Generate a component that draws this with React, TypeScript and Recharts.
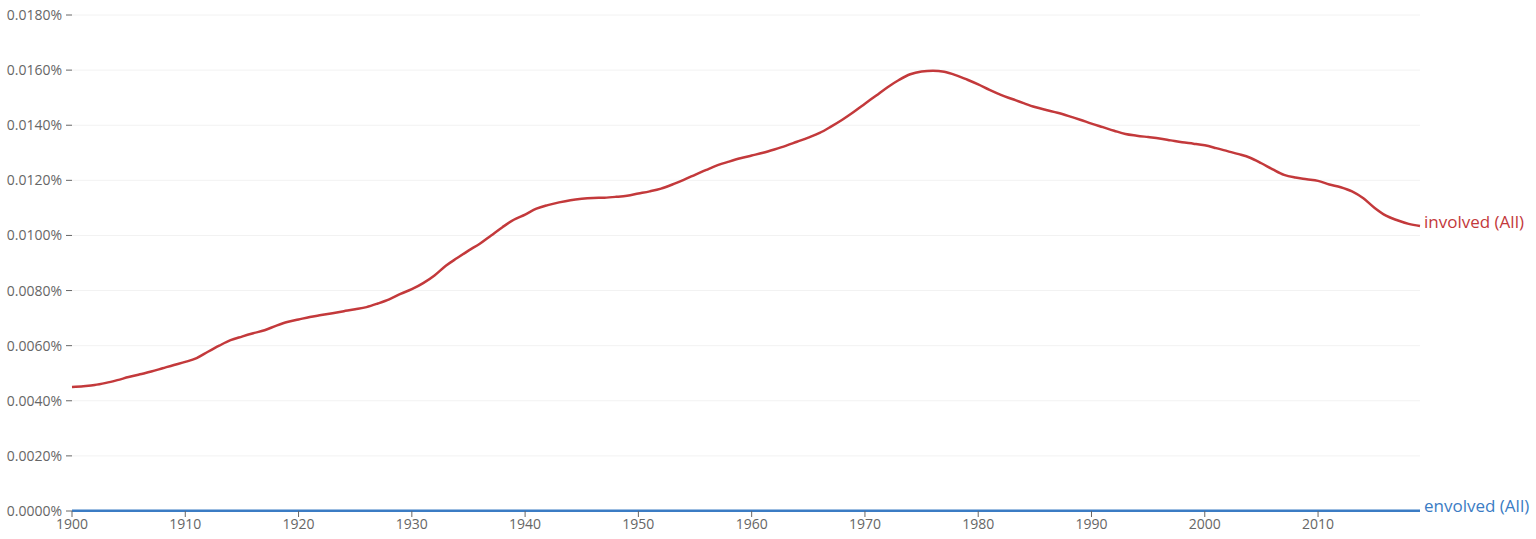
import React from 'react';
import { LineChart, Line, XAxis, YAxis, CartesianGrid } from 'recharts';

// yearly frequency of "involved", in percent
const involvedPct = [
  0.00450, 0.00453, 0.00457, 0.00465, 0.00475, 0.00486, 0.00496, 0.00506, 0.00518, 0.00530,
  0.00541, 0.00555, 0.00578, 0.00600, 0.00620, 0.00633, 0.00645, 0.00656, 0.00672, 0.00686,
  0.00695, 0.00704, 0.00711, 0.00718, 0.00725, 0.00732, 0.00740, 0.00753, 0.00768, 0.00788,
  0.00805, 0.00827, 0.00855, 0.00890, 0.00918, 0.00945, 0.00970, 0.01000, 0.01030, 0.01057,
  0.01076, 0.01097, 0.01110, 0.01120, 0.01128, 0.01133, 0.01136, 0.01137, 0.01140, 0.01144,
  0.01152, 0.01160, 0.01170, 0.01185, 0.01202, 0.01220, 0.01238, 0.01255, 0.01268, 0.01280,
  0.01290, 0.01300, 0.01312, 0.01325, 0.01340, 0.01355, 0.01372, 0.01395, 0.01420, 0.01448,
  0.01478, 0.01508, 0.01538, 0.01564, 0.01585, 0.01595, 0.01598, 0.01594, 0.01582, 0.01566,
  0.01548, 0.01528, 0.01510, 0.01495, 0.01480, 0.01466, 0.01455, 0.01445, 0.01433, 0.01420,
  0.01406, 0.01393, 0.01380, 0.01368, 0.01362, 0.01357, 0.01352, 0.01345, 0.01338, 0.01333,
  0.01327, 0.01317, 0.01306, 0.01295, 0.01282, 0.01262, 0.01240, 0.01220, 0.01210, 0.01204,
  0.01198, 0.01185, 0.01175, 0.01160, 0.01135, 0.01100, 0.01072, 0.01055, 0.01042, 0.01034,
];

// "envolved" sits just above zero the whole way
const envolvedYears = [1900, 1910, 1920, 1930, 1940, 1950, 1960, 1970, 1980, 1990, 2000, 2010, 2019];
const envolvedPct = [0.00001, 0.00001, 0.00001, 0.00001, 0.00001, 0.00001, 0.00001, 0.00001, 0.00001, 0.00001, 0.00001, 0.000008, 0.000008];

const firstYear = 1900;
const xTicks = [1900, 1910, 1920, 1930, 1940, 1950, 1960, 1970, 1980, 1990, 2000, 2010];
const yTicks = [0, 0.002, 0.004, 0.006, 0.008, 0.01, 0.012, 0.014, 0.016, 0.018];

const involvedData = involvedPct.map((v, i) => ({ year: firstYear + i, value: v }));
const envolvedData = envolvedYears.map((y, i) => ({ year: y, value: envolvedPct[i] }));

const RED = '#c3393b';
const BLUE = '#3b7cc4';
const FONT = '"Open Sans", sans-serif';

const endLabel = (text: string, color: string, last: number) => (props: any) => {
  const { x, y, index } = props;
  if (index !== last) return null;
  return (
    <text x={x + 4} y={y} dy={-3} dominantBaseline="middle" fill={color} fontSize={17} fontFamily={FONT}>
      {text}
    </text>
  );
};

const App: React.FC = () => {
  return (
    <div style={{ position: 'absolute', left: 0, top: 0, width: 1536, height: 539, background: '#fff' }}>
      <LineChart width={1536} height={539} margin={{ top: 15, right: 116, bottom: 0, left: 0 }}>
        <CartesianGrid vertical={false} stroke="#f2f2f2" />
        <XAxis
          dataKey="year"
          type="number"
          domain={[1900, 2019]}
          ticks={xTicks}
          height={28}
          tickSize={6}
          tickMargin={2}
          axisLine={false}
          tickLine={{ stroke: '#666' }}
          tick={{ fill: '#666', fontSize: 14, fontFamily: FONT }}
          allowDuplicatedCategory={false}
        />
        <YAxis
          type="number"
          domain={[0, 0.018]}
          ticks={yTicks}
          width={72}
          tickSize={6}
          tickMargin={4}
          axisLine={false}
          tickLine={{ stroke: '#666' }}
          tick={{ fill: '#666', fontSize: 14, fontFamily: FONT }}
          tickFormatter={(v: number) => `${v.toFixed(4)}%`}
        />
        <Line
          data={envolvedData}
          dataKey="value"
          type="monotone"
          stroke={BLUE}
          strokeWidth={2.5}
          dot={false}
          isAnimationActive={false}
          label={endLabel('envolved (All)', BLUE, envolvedData.length - 1)}
        />
        <Line
          data={involvedData}
          dataKey="value"
          type="monotone"
          stroke={RED}
          strokeWidth={2.5}
          dot={false}
          isAnimationActive={false}
          label={endLabel('involved (All)', RED, involvedData.length - 1)}
        />
      </LineChart>
    </div>
  );
};

export default App;
